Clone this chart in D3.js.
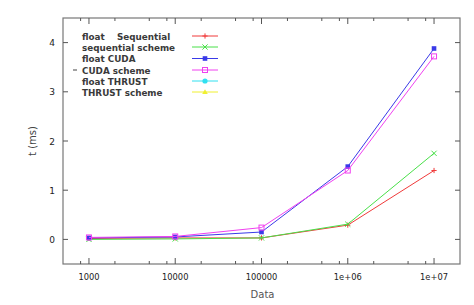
<!DOCTYPE html>
<html><head><meta charset="utf-8">
<script src="https://cdn.jsdelivr.net/npm/d3@7"></script>
<style>body{margin:0;background:#fff;}svg{display:block;font-family:"DejaVu Sans",sans-serif;}</style>
</head><body>
<svg id="c" width="474" height="305"></svg>
<script>
const dataSizes = [1000, 10000, 100000, 1000000, 10000000];
const floatSequential = [0.02, 0.03, 0.03, 0.29, 1.40];
const sequentialScheme = [0.00, 0.01, 0.03, 0.31, 1.75];
const floatCUDA = [0.03, 0.05, 0.15, 1.48, 3.88];
const cudaScheme = [0.04, 0.06, 0.24, 1.40, 3.72];
const floatTHRUST = [];
const thrustScheme = [];
const seriesNames = ["float    Sequential", "sequential scheme", "float CUDA", "CUDA scheme", "float THRUST", "THRUST scheme"];
const seriesColors = ["#f03a3a", "#48e048", "#3a3ae8", "#f040f0", "#30e0f0", "#f0f030"];
const seriesMarkers = ["plus", "cross", "fsquare", "osquare", "fcircle", "triangle"];
const xTicks = [1000, 10000, 100000, 1000000, 10000000];
const xTickLabels = ["1000", "10000", "100000", "1e+06", "1e+07"];
const yTicks = [0, 1, 2, 3, 4];
const allSeries = [floatSequential, sequentialScheme, floatCUDA, cudaScheme, floatTHRUST, thrustScheme];

const svg = d3.select("#c");
const L = 63, R = 460, T = 18, B = 264;
const x = d3.scaleLog().domain([500, 2e7]).range([L, R]);
const y = d3.scaleLinear().domain([-0.5, 4.5]).range([B, T]);

const axisColor = "#555";
svg.append("rect").attr("x", L).attr("y", T).attr("width", R - L).attr("height", B - T)
  .attr("fill", "none").attr("stroke", "#777").attr("stroke-width", 1.2);

const minor = [];
for (let d = 100; d <= 1e7; d *= 10) [2, 5, 8].forEach(m => { const v = d * m; if (v > 500 && v < 2e7) minor.push(v); });
const g = svg.append("g").attr("stroke", axisColor).attr("stroke-width", 1);
minor.forEach(v => {
  g.append("line").attr("x1", x(v)).attr("x2", x(v)).attr("y1", B).attr("y2", B - 3);
  g.append("line").attr("x1", x(v)).attr("x2", x(v)).attr("y1", T).attr("y2", T + 3);
});
xTicks.forEach(v => {
  g.append("line").attr("x1", x(v)).attr("x2", x(v)).attr("y1", B).attr("y2", B - 6);
  g.append("line").attr("x1", x(v)).attr("x2", x(v)).attr("y1", T).attr("y2", T + 6);
});
yTicks.forEach(v => {
  g.append("line").attr("x1", L).attr("x2", L + 5).attr("y1", y(v)).attr("y2", y(v));
  g.append("line").attr("x1", R).attr("x2", R - 5).attr("y1", y(v)).attr("y2", y(v));
});

svg.append("g").selectAll("text").data(xTicks).join("text")
  .attr("x", d => x(d)).attr("y", B + 16).attr("text-anchor", "middle")
  .attr("font-size", 8.3).attr("fill", "#222").text((d, i) => xTickLabels[i]);
svg.append("g").selectAll("text").data(yTicks).join("text")
  .attr("x", L - 8).attr("y", d => y(d) + 3.5).attr("text-anchor", "end")
  .attr("font-size", 9).attr("fill", "#222").text(d => d);

svg.append("text").attr("x", (L + R) / 2 + 1).attr("y", 298).attr("text-anchor", "middle")
  .attr("font-size", 10).attr("fill", "#555").text("Data");
svg.append("text").attr("transform", "translate(36," + ((T + B) / 2) + ") rotate(-90)")
  .attr("text-anchor", "middle").attr("font-size", 10).attr("fill", "#444").text("t (ms)");

function marker(gp, type, cx, cy, color) {
  const s = 2.6;
  if (type === "plus") {
    gp.append("path").attr("d", `M${cx - s},${cy}H${cx + s}M${cx},${cy - s}V${cy + s}`).attr("stroke", color).attr("stroke-width", 1);
  } else if (type === "cross") {
    gp.append("path").attr("d", `M${cx - s},${cy - s}L${cx + s},${cy + s}M${cx - s},${cy + s}L${cx + s},${cy - s}`).attr("stroke", color).attr("stroke-width", 1);
  } else if (type === "fsquare") {
    gp.append("rect").attr("x", cx - 2.3).attr("y", cy - 2.3).attr("width", 4.6).attr("height", 4.6).attr("fill", color);
  } else if (type === "osquare") {
    gp.append("rect").attr("x", cx - 2.5).attr("y", cy - 2.5).attr("width", 5).attr("height", 5).attr("fill", "none").attr("stroke", color).attr("stroke-width", 1);
  } else if (type === "fcircle") {
    gp.append("circle").attr("cx", cx).attr("cy", cy).attr("r", 2.6).attr("fill", color);
  } else {
    gp.append("path").attr("d", `M${cx},${cy - 2.8}L${cx + 2.8},${cy + 2}L${cx - 2.8},${cy + 2}Z`).attr("fill", color);
  }
}

const line = d3.line().x(d => x(d[0])).y(d => y(d[1]));
allSeries.forEach((vals, i) => {
  const pts = vals.map((v, j) => [dataSizes[j], v]);
  const gp = svg.append("g");
  if (pts.length) {
    gp.append("path").datum(pts).attr("d", line).attr("fill", "none")
      .attr("stroke", seriesColors[i]).attr("stroke-width", 1);
    pts.forEach(p => marker(gp, seriesMarkers[i], x(p[0]), y(p[1]), seriesColors[i]));
  }
});

const legY = [36, 47, 58.5, 70, 81, 92];
seriesNames.forEach((n, i) => {
  svg.append("text").attr("x", 82).attr("y", legY[i] + 3.5).attr("font-size", 8.8)
    .attr("font-weight", "bold").attr("fill", "#3a3a3a").attr("xml:space", "preserve").text(n);
  svg.append("line").attr("x1", 192).attr("x2", 218).attr("y1", legY[i]).attr("y2", legY[i])
    .attr("stroke", seriesColors[i]).attr("stroke-width", 1);
  marker(svg.append("g"), seriesMarkers[i], 205, legY[i], seriesColors[i]);
});
svg.append("line").attr("x1", 73).attr("x2", 77).attr("y1", 70).attr("y2", 70).attr("stroke", "#444");
</script>
</body></html>
